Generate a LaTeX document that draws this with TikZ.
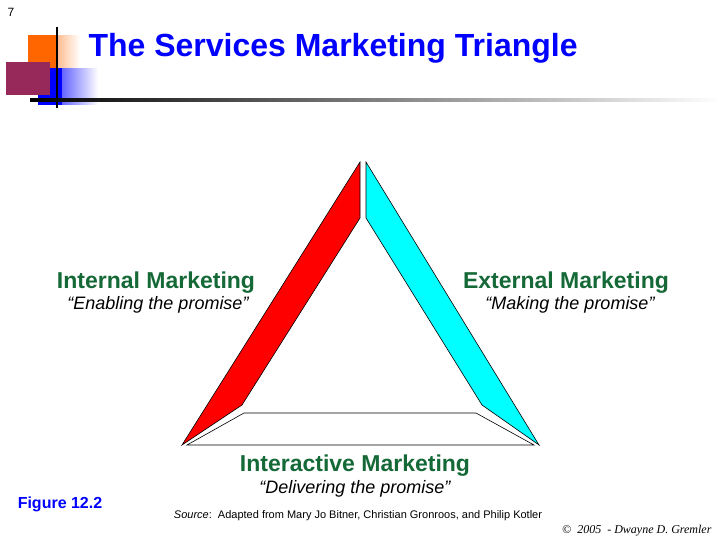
\documentclass[tikz,border=0pt]{standalone}
\usepackage{fontspec}
\setmainfont{Liberation Sans}
\newfontfamily\serifface{Liberation Serif}
\usetikzlibrary{fadings}
\definecolor{mktgreen}{RGB}{20,105,55}
\definecolor{logoorange}{RGB}{255,102,0}
\definecolor{logomaroon}{RGB}{150,40,90}
\definecolor{mktcyan}{RGB}{0,255,255}

\begin{document}
\begin{tikzpicture}[x=1pt,y=-1pt,
  head/.style={text=mktgreen,font=\fontsize{23}{25}\selectfont\bfseries},
  quote/.style={font=\fontsize{18}{20}\selectfont\itshape},
  side/.style={draw=black,line width=0.6pt,line join=miter}]

\useasboundingbox (0,0) rectangle (720,540);

% logo
\fill[logoorange,path fading=east] (28,35) rectangle (80,68);
\fill[logoorange] (28,35) rectangle (58,68);
\fill[blue,path fading=east] (38,68) rectangle (98,105);
\fill[blue] (38,68) rectangle (62,105);
\fill[logomaroon] (6,62) rectangle (50,95);
\draw[line width=1.2pt] (57,27) -- (57,108);
\shade[left color=black,right color=white] (30,98.5) rectangle (720,101.5);

\node[font=\fontsize{12}{14}\selectfont] (num) at (11,12) {7};
\node[anchor=west,text=blue,font=\fontsize{32}{34}\selectfont\bfseries] (title) at (85,48) {The Services Marketing Triangle};

% triangle
\coordinate (rb) at (182,445);
\coordinate (rt) at (360,162);
\coordinate (ri) at (360,218);
\coordinate (rl) at (242,405);
\coordinate (ct) at (366,162);
\coordinate (cb) at (539,445);
\coordinate (ci) at (482,405);
\coordinate (cs) at (366,218);
\coordinate (wl) at (187,445);
\coordinate (wr) at (534,445);
\coordinate (wtr) at (476,413);
\coordinate (wtl) at (244,413);

\filldraw[side,fill=red] (rb) -- (rt) -- (ri) -- (rl) -- cycle;
\filldraw[side,fill=mktcyan] (ct) -- (cb) -- (ci) -- (cs) -- cycle;
\filldraw[side,fill=white] (wl) -- (wr) -- (wtr) -- (wtl) -- cycle;

% labels
\node[head] (inth) at (156,283) {Internal Marketing};
\node[quote] (intq) at (158,305) {“Enabling the promise”};
\node[head] (exth) at (566,283) {External Marketing};
\node[quote] (extq) at (570,305) {“Making the promise”};
\node[head] (inah) at (355,466) {Interactive Marketing};
\node[quote] (inaq) at (355,489) {“Delivering the promise”};

\node[text=blue,font=\fontsize{16}{18}\selectfont\bfseries] (fig) at (60,504) {Figure 12.2};
\node[font=\fontsize{11}{13}\selectfont] (src) at (358,516) {\textit{Source}:\ \ Adapted from Mary Jo Bitner, Christian Gronroos, and Philip Kotler};
\node[anchor=east,font=\serifface\fontsize{12}{14}\selectfont\itshape] (copy) at (715,531) {\textcopyright\ \ 2005\ \ - Dwayne D. Gremler};
\end{tikzpicture}
\end{document}
